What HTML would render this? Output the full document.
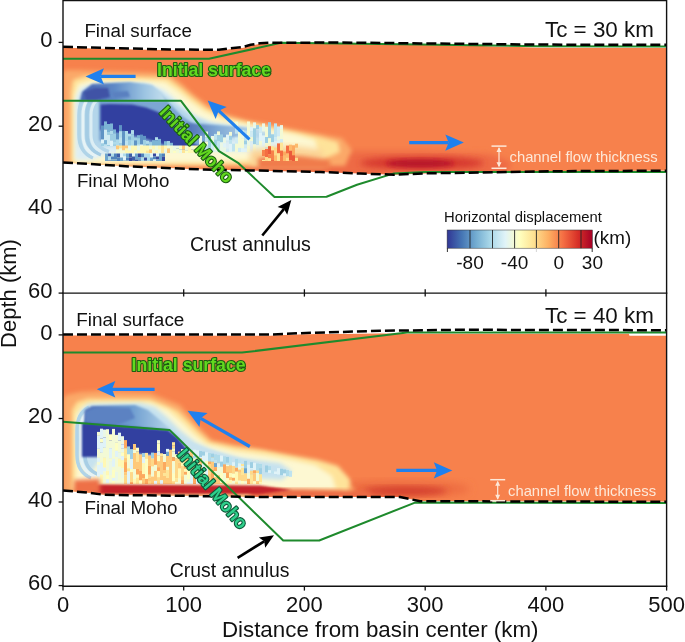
<!DOCTYPE html>
<html><head><meta charset="utf-8"><title>Horizontal displacement</title>
<style>html,body{margin:0;padding:0;background:#fff;}svg{display:block;}</style>
</head><body><svg width="685" height="642" viewBox="0 0 685 642"><defs>
<filter id="b03" x="-20%" y="-20%" width="140%" height="140%"><feGaussianBlur stdDeviation="0.35"/></filter>
<filter id="b05" x="-20%" y="-20%" width="140%" height="140%"><feGaussianBlur stdDeviation="0.6"/></filter>
<filter id="b1" x="-20%" y="-20%" width="140%" height="140%"><feGaussianBlur stdDeviation="1"/></filter>
<filter id="b2" x="-20%" y="-20%" width="140%" height="140%"><feGaussianBlur stdDeviation="2"/></filter>
<filter id="b3" x="-20%" y="-20%" width="140%" height="140%"><feGaussianBlur stdDeviation="3"/></filter>
<filter id="b4" x="-20%" y="-20%" width="140%" height="140%"><feGaussianBlur stdDeviation="4"/></filter>
<filter id="b6" x="-20%" y="-20%" width="140%" height="140%"><feGaussianBlur stdDeviation="6"/></filter>
<filter id="b8" x="-30%" y="-30%" width="160%" height="160%"><feGaussianBlur stdDeviation="8"/></filter>
<linearGradient id="gband" gradientUnits="userSpaceOnUse" x1="85" y1="0" x2="170" y2="0">
<stop offset="0" stop-color="#4A66B2"/><stop offset="0.35" stop-color="#5F8AC6"/><stop offset="0.7" stop-color="#9CC4E2"/><stop offset="1" stop-color="#CFE6F0"/>
</linearGradient>
<linearGradient id="gband2" gradientUnits="userSpaceOnUse" x1="85" y1="0" x2="180" y2="0">
<stop offset="0" stop-color="#5270B8"/><stop offset="0.5" stop-color="#6F9ED0"/><stop offset="0.8" stop-color="#A4C8E4"/><stop offset="1" stop-color="#C8E2EE"/>
</linearGradient>
<linearGradient id="gband3" gradientUnits="userSpaceOnUse" x1="186" y1="0" x2="264" y2="0">
<stop offset="0" stop-color="#4F6FB6"/><stop offset="0.4" stop-color="#7FA9D5"/><stop offset="1" stop-color="#C6E0EE"/>
</linearGradient>
<linearGradient id="cbar" x1="0" x2="1" y1="0" y2="0">
<stop offset="0" stop-color="#313695"/>
<stop offset="0.1" stop-color="#4575b4"/>
<stop offset="0.2" stop-color="#74add1"/>
<stop offset="0.3" stop-color="#abd9e9"/>
<stop offset="0.4" stop-color="#e0f3f8"/>
<stop offset="0.5" stop-color="#ffffbf"/>
<stop offset="0.6" stop-color="#fee090"/>
<stop offset="0.7" stop-color="#fdae61"/>
<stop offset="0.8" stop-color="#f46d43"/>
<stop offset="0.9" stop-color="#d73027"/>
<stop offset="1" stop-color="#a50026"/>
</linearGradient>
</defs><clipPath id="ct"><polygon points="63.0,47.4 120.0,48.9 170.0,50.1 219.0,50.4 228.5,49.2 242.6,47.7 250.7,45.4 260.0,43.8 270.0,43.4 340.0,43.1 420.0,44.2 500.0,46.6 540.0,47.6 666.0,47.8 666.0,170.7 550.0,171.2 425.0,173.4 394.0,174.7 360.0,173.5 320.0,172.0 250.0,170.4 200.0,169.4 130.0,166.5 63.0,162.4"/></clipPath><clipPath id="cb"><polygon points="63.0,335.2 270.0,335.4 300.0,334.2 380.0,333.2 407.0,333.5 629.0,333.5 629.5,335.5 666.0,335.5 666.0,501.8 420.0,501.2 400.0,497.0 260.0,497.0 180.0,495.8 104.0,494.8 89.0,492.8 63.0,490.4"/></clipPath><g clip-path="url(#ct)"><polygon points="63.0,47.4 120.0,48.9 170.0,50.1 219.0,50.4 228.5,49.2 242.6,47.7 250.7,45.4 260.0,43.8 270.0,43.4 340.0,43.1 420.0,44.2 500.0,46.6 540.0,47.6 666.0,47.8 666.0,170.7 550.0,171.2 425.0,173.4 394.0,174.7 360.0,173.5 320.0,172.0 250.0,170.4 200.0,169.4 130.0,166.5 63.0,162.4" fill="#F7814C"/><polygon points="250.0,154.0 330.0,151.0 420.0,151.0 490.0,154.0 512.0,162.0 505.0,176.0 250.0,176.0" fill="#EE6B45" filter="url(#b3)"/><ellipse cx="422" cy="163" rx="62" ry="6.5" fill="#D6392F" filter="url(#b3)"/><ellipse cx="420" cy="163.5" rx="34" ry="4" fill="#B8182A" filter="url(#b2)"/><polygon points="63.0,166.0 63.0,72.0 66.0,70.0 80.0,70.0 100.0,71.0 140.0,72.0 168.0,73.0 180.0,82.0 192.0,93.0 206.0,104.0 222.0,113.0 245.0,119.5 270.0,124.5 296.0,129.5 320.0,134.0 342.0,138.0 352.0,150.0 345.0,166.0" fill="#FBA868" filter="url(#b2)"/><polygon points="71.0,164.0 71.0,92.0 73.0,80.0 85.0,76.0 101.0,77.0 142.0,77.0 168.0,78.0 180.0,87.0 193.0,98.0 207.0,108.5 226.0,117.0 250.0,123.0 273.0,128.0 297.0,132.5 320.0,137.0 338.0,142.0 340.0,152.0 322.0,160.0 270.0,164.0 200.0,165.0 100.0,164.0" fill="#FEE39A" filter="url(#b2)"/><polygon points="75.0,162.0 75.0,95.0 78.0,84.0 90.0,80.5 140.0,80.5 165.0,82.0 178.0,91.0 190.0,101.0 204.0,111.0 222.0,119.0 250.0,125.0 275.0,130.0 298.0,135.0 315.0,140.0 318.0,152.0 300.0,158.0 250.0,160.0 200.0,162.0 100.0,163.0" fill="#FDF8D2" filter="url(#b2)"/><polygon points="75.0,160.0 75.0,100.0 80.0,88.0 95.0,84.0 150.0,84.0 165.0,90.0 180.0,103.0 196.0,116.0 215.0,124.0 250.0,130.0 280.0,137.0 283.0,150.0 250.0,152.0 200.0,150.0 150.0,150.0 105.0,155.0 90.0,160.0" fill="#DDEEF4" filter="url(#b2)"/><polygon points="80.0,146.0 80.0,98.0 86.0,88.0 100.0,85.0 145.0,84.0 160.0,92.0 176.0,104.0 192.0,116.0 210.0,123.0 240.0,127.0 268.0,132.0 270.0,140.0 240.0,138.0 205.0,143.0 160.0,146.0 110.0,146.0 92.0,148.0" fill="#B4D6EA" filter="url(#b2)"/><g filter="url(#b05)"><path d="M93.0,90.0 Q79.0,97.0 79.0,115.0 L79.0,135.0 Q79.0,152.0 93.0,158.0" fill="none" stroke="#B0D4E8" stroke-width="3.5"/><path d="M97.0,91.6 Q83.0,98.2 83.0,115.0 L83.0,135.0 Q83.0,150.8 97.0,156.4" fill="none" stroke="#E6F3F6" stroke-width="3"/><path d="M101.0,93.2 Q87.0,99.4 87.0,115.0 L87.0,135.0 Q87.0,149.6 101.0,154.8" fill="none" stroke="#A4CCE4" stroke-width="3.5"/><path d="M105.0,94.8 Q91.0,100.6 91.0,115.0 L91.0,135.0 Q91.0,148.4 105.0,153.2" fill="none" stroke="#DCEEF4" stroke-width="3"/><path d="M109.0,96.4 Q95.0,101.8 95.0,115.0 L95.0,135.0 Q95.0,147.2 109.0,151.6" fill="none" stroke="#B4D6EA" stroke-width="3.5"/></g><polygon points="99.0,140.0 99.0,100.0 100.0,90.0 120.0,86.0 150.0,88.0 162.0,96.0 172.0,106.0 182.0,116.0 195.0,125.0 210.0,129.0 235.0,128.0 252.0,131.0 235.0,136.0 212.0,141.0 200.0,150.0 180.0,150.0 160.0,146.0 140.0,143.0 120.0,143.0 105.0,144.0" fill="#7BA6D3" filter="url(#b1)"/><polygon points="186.0,123.0 215.0,125.0 250.0,128.0 264.0,131.0 250.0,135.0 215.0,136.0 190.0,135.0" fill="url(#gband3)" filter="url(#b1)"/><polygon points="100.5,130.0 100.5,104.5 110.0,104.0 132.0,104.5 146.0,107.5 158.0,112.0 170.0,119.0 181.0,131.0 190.0,141.0 198.0,146.0 198.0,150.0 190.0,150.0 178.0,149.0 165.0,145.0 150.0,140.0 140.0,137.0 125.0,134.0 110.0,132.0" fill="#3340A0" filter="url(#b1)"/><polygon points="80.0,101.0 82.0,92.0 92.0,84.0 130.0,82.0 152.0,85.0 162.0,93.0 166.0,101.0" fill="url(#gband)" filter="url(#b1)"/><polygon points="84.0,92.0 95.0,88.0 108.0,88.0 110.0,97.0 96.0,100.0 86.0,100.0" fill="#3F52A6" filter="url(#b1)"/><polygon points="112.0,92.0 128.0,91.0 130.0,97.0 114.0,98.0" fill="#5A80C0" filter="url(#b1)"/><g filter="url(#b03)"><rect x="101" y="125.5" width="3" height="14.0" fill="#5E93C4"/><rect x="101" y="139.5" width="3" height="4.0" fill="#E0F3F8"/><rect x="101" y="143.5" width="3" height="2.5" fill="#9ECFE3"/><rect x="104" y="121.4" width="3" height="8.0" fill="#7CB4D5"/><rect x="104" y="129.4" width="3" height="11.0" fill="#D0EBF3"/><rect x="104" y="140.4" width="3" height="4.0" fill="#7CB4D5"/><rect x="104" y="144.4" width="3" height="1.6" fill="#BFE3EF"/><rect x="107" y="124.0" width="3" height="8.0" fill="#7CB4D5"/><rect x="107" y="132.0" width="3" height="3.0" fill="#9ECFE3"/><rect x="107" y="135.0" width="3" height="10.0" fill="#D0EBF3"/><rect x="107" y="145.0" width="3" height="1.0" fill="#9ECFE3"/><rect x="110" y="123.5" width="3" height="7.0" fill="#7CB4D5"/><rect x="110" y="130.5" width="3" height="4.0" fill="#AFDBEA"/><rect x="110" y="134.5" width="3" height="6.0" fill="#9ECFE3"/><rect x="110" y="140.5" width="3" height="5.5" fill="#E0F3F8"/><rect x="113" y="129.4" width="3" height="4.0" fill="#7CB4D5"/><rect x="113" y="133.4" width="3" height="8.0" fill="#9ECFE3"/><rect x="113" y="141.4" width="3" height="3.0" fill="#AFDBEA"/><rect x="113" y="144.4" width="3" height="1.6" fill="#9ECFE3"/><rect x="116" y="133.5" width="3" height="6.0" fill="#5E93C4"/><rect x="116" y="139.5" width="3" height="6.0" fill="#AFDBEA"/><rect x="116" y="145.5" width="3" height="0.5" fill="#D0EBF3"/><rect x="119" y="125.1" width="3" height="6.0" fill="#5E93C4"/><rect x="119" y="131.1" width="3" height="6.0" fill="#AFDBEA"/><rect x="119" y="137.1" width="3" height="6.0" fill="#BFE3EF"/><rect x="119" y="143.1" width="3" height="2.9" fill="#9ECFE3"/><rect x="122" y="130.9" width="3" height="15.1" fill="#5E93C4"/><rect x="125" y="131.0" width="3" height="10.0" fill="#AFDBEA"/><rect x="125" y="141.0" width="3" height="5.0" fill="#BFE3EF"/><rect x="128" y="133.7" width="3" height="3.0" fill="#AFDBEA"/><rect x="128" y="136.7" width="3" height="3.0" fill="#7CB4D5"/><rect x="128" y="139.7" width="3" height="6.3" fill="#9ECFE3"/><rect x="131" y="130.1" width="3" height="4.0" fill="#AFDBEA"/><rect x="131" y="134.1" width="3" height="6.0" fill="#9ECFE3"/><rect x="131" y="140.1" width="3" height="5.9" fill="#AFDBEA"/><rect x="134" y="137.6" width="3" height="3.0" fill="#9ECFE3"/><rect x="134" y="140.6" width="3" height="5.4" fill="#5E93C4"/><rect x="137" y="135.2" width="3" height="3.0" fill="#7CB4D5"/><rect x="137" y="138.2" width="3" height="6.0" fill="#9ECFE3"/><rect x="137" y="144.2" width="3" height="1.8" fill="#AFDBEA"/><rect x="140" y="134.6" width="3" height="10.0" fill="#5E93C4"/><rect x="140" y="144.6" width="3" height="1.4" fill="#E0F3F8"/><rect x="143" y="135.9" width="3" height="4.0" fill="#5E93C4"/><rect x="143" y="139.9" width="3" height="6.1" fill="#9ECFE3"/><rect x="146" y="140.9" width="3" height="3.0" fill="#AFDBEA"/><rect x="146" y="143.9" width="3" height="2.1" fill="#7CB4D5"/><rect x="149" y="142.1" width="3" height="3.9" fill="#9ECFE3"/><rect x="152" y="140.2" width="3" height="5.8" fill="#7CB4D5"/><rect x="155" y="137.2" width="3" height="3.0" fill="#AFDBEA"/><rect x="155" y="140.2" width="3" height="5.8" fill="#7CB4D5"/><rect x="158" y="138.9" width="3" height="7.1" fill="#7CB4D5"/><rect x="161" y="144.8" width="3" height="1.2" fill="#5E93C4"/><rect x="164" y="141.2" width="3" height="4.8" fill="#7CB4D5"/><rect x="167" y="141.0" width="3" height="5.0" fill="#9ECFE3"/><rect x="170" y="142.8" width="3" height="3.2" fill="#7CB4D5"/></g><g filter="url(#b03)"><rect x="116" y="145.5" width="3" height="4.0" fill="#FEC97A"/><rect x="116" y="149.5" width="3" height="3.5" fill="#F3FAD5"/><rect x="119" y="145.5" width="3" height="3.0" fill="#FEE597"/><rect x="119" y="148.5" width="3" height="4.5" fill="#F3FAD5"/><rect x="122" y="145.5" width="3" height="5.0" fill="#FEC97A"/><rect x="122" y="150.5" width="3" height="2.5" fill="#F3FAD5"/><rect x="125" y="145.5" width="3" height="3.0" fill="#FEC97A"/><rect x="125" y="148.5" width="3" height="4.5" fill="#FFF8B4"/><rect x="128" y="145.5" width="3" height="5.0" fill="#EAF7E6"/><rect x="128" y="150.5" width="3" height="2.5" fill="#FFF8B4"/><rect x="131" y="145.5" width="3" height="7.5" fill="#FFF8B4"/><rect x="134" y="145.5" width="3" height="5.0" fill="#FFF8B4"/><rect x="134" y="150.5" width="3" height="2.5" fill="#F3FAD5"/><rect x="137" y="145.5" width="3" height="5.0" fill="#EAF7E6"/><rect x="137" y="150.5" width="3" height="2.5" fill="#FFF8B4"/><rect x="140" y="145.5" width="3" height="7.5" fill="#FFF8B4"/><rect x="143" y="145.5" width="3" height="7.5" fill="#FFF8B4"/><rect x="146" y="145.5" width="3" height="5.0" fill="#FFF8B4"/><rect x="146" y="150.5" width="3" height="2.5" fill="#FEE597"/><rect x="149" y="145.5" width="3" height="4.0" fill="#F3FAD5"/><rect x="149" y="149.5" width="3" height="3.5" fill="#FEC97A"/><rect x="152" y="145.5" width="3" height="4.0" fill="#FFF8B4"/><rect x="152" y="149.5" width="3" height="3.5" fill="#F3FAD5"/><rect x="155" y="145.5" width="3" height="5.0" fill="#F3FAD5"/><rect x="155" y="150.5" width="3" height="2.5" fill="#FFF8B4"/><rect x="158" y="145.5" width="3" height="4.0" fill="#FFF8B4"/><rect x="158" y="149.5" width="3" height="3.5" fill="#F3FAD5"/><rect x="161" y="145.5" width="3" height="7.5" fill="#FEE597"/><rect x="164" y="145.5" width="3" height="4.0" fill="#FFF8B4"/><rect x="164" y="149.5" width="3" height="3.5" fill="#EAF7E6"/><rect x="167" y="145.5" width="3" height="3.0" fill="#F3FAD5"/><rect x="167" y="148.5" width="3" height="4.5" fill="#FEC97A"/><rect x="170" y="145.5" width="3" height="7.5" fill="#F3FAD5"/><rect x="173" y="145.5" width="3" height="5.0" fill="#EAF7E6"/><rect x="173" y="150.5" width="3" height="2.5" fill="#FDFEC3"/><rect x="176" y="145.5" width="3" height="3.0" fill="#EAF7E6"/><rect x="176" y="148.5" width="3" height="4.5" fill="#F3FAD5"/><rect x="179" y="145.5" width="3" height="4.0" fill="#FDFEC3"/><rect x="179" y="149.5" width="3" height="3.5" fill="#EAF7E6"/><rect x="182" y="145.5" width="3" height="4.0" fill="#FEC97A"/><rect x="182" y="149.5" width="3" height="3.5" fill="#FEE597"/><rect x="185" y="145.5" width="3" height="5.0" fill="#F3FAD5"/><rect x="185" y="150.5" width="3" height="2.5" fill="#FDFEC3"/><rect x="188" y="145.5" width="3" height="7.5" fill="#FFF8B4"/><rect x="191" y="145.5" width="3" height="4.0" fill="#F3FAD5"/><rect x="191" y="149.5" width="3" height="3.5" fill="#FFF8B4"/><rect x="194" y="145.5" width="3" height="7.5" fill="#FFF8B4"/><rect x="197" y="145.5" width="3" height="5.0" fill="#FFF8B4"/><rect x="197" y="150.5" width="3" height="2.5" fill="#F3FAD5"/></g><g filter="url(#b03)"><rect x="105" y="153.5" width="3" height="7.5" fill="#6DA4CD"/><rect x="108" y="153.5" width="3" height="3.0" fill="#3D5DA8"/><rect x="108" y="156.5" width="3" height="4.0" fill="#AFDBEA"/><rect x="108" y="160.5" width="3" height="0.5" fill="#3D5DA8"/><rect x="111" y="153.5" width="3" height="3.0" fill="#AFDBEA"/><rect x="111" y="156.5" width="3" height="3.0" fill="#5082BB"/><rect x="111" y="159.5" width="3" height="1.5" fill="#6DA4CD"/><rect x="114" y="153.5" width="3" height="6.0" fill="#5082BB"/><rect x="114" y="159.5" width="3" height="1.5" fill="#6DA4CD"/><rect x="117" y="153.5" width="3" height="4.0" fill="#3D5DA8"/><rect x="117" y="157.5" width="3" height="3.5" fill="#5082BB"/><rect x="120" y="153.5" width="3" height="4.0" fill="#E0F3F8"/><rect x="120" y="157.5" width="3" height="3.5" fill="#6DA4CD"/><rect x="123" y="153.5" width="3" height="3.0" fill="#AFDBEA"/><rect x="123" y="156.5" width="3" height="4.0" fill="#E0F3F8"/><rect x="123" y="160.5" width="3" height="0.5" fill="#6DA4CD"/><rect x="126" y="153.5" width="3" height="4.0" fill="#6DA4CD"/><rect x="126" y="157.5" width="3" height="3.0" fill="#5082BB"/><rect x="126" y="160.5" width="3" height="0.5" fill="#6DA4CD"/><rect x="129" y="153.5" width="3" height="4.0" fill="#3D5DA8"/><rect x="129" y="157.5" width="3" height="3.5" fill="#37499F"/><rect x="132" y="153.5" width="3" height="3.0" fill="#E0F3F8"/><rect x="132" y="156.5" width="3" height="4.0" fill="#3D5DA8"/><rect x="132" y="160.5" width="3" height="0.5" fill="#37499F"/><rect x="135" y="153.5" width="3" height="6.0" fill="#6DA4CD"/><rect x="135" y="159.5" width="3" height="1.5" fill="#3D5DA8"/><rect x="138" y="153.5" width="3" height="4.0" fill="#37499F"/><rect x="138" y="157.5" width="3" height="3.0" fill="#6DA4CD"/><rect x="138" y="160.5" width="3" height="0.5" fill="#3D5DA8"/><rect x="141" y="153.5" width="3" height="4.0" fill="#5082BB"/><rect x="141" y="157.5" width="3" height="3.5" fill="#AFDBEA"/><rect x="144" y="153.5" width="3" height="4.0" fill="#AFDBEA"/><rect x="144" y="157.5" width="3" height="3.0" fill="#37499F"/><rect x="144" y="160.5" width="3" height="0.5" fill="#5082BB"/><rect x="147" y="153.5" width="3" height="7.5" fill="#AFDBEA"/><rect x="150" y="153.5" width="3" height="4.0" fill="#E0F3F8"/><rect x="150" y="157.5" width="3" height="3.0" fill="#6DA4CD"/><rect x="150" y="160.5" width="3" height="0.5" fill="#5082BB"/><rect x="153" y="153.5" width="3" height="3.0" fill="#37499F"/><rect x="153" y="156.5" width="3" height="3.0" fill="#5082BB"/><rect x="153" y="159.5" width="3" height="1.5" fill="#E0F3F8"/><rect x="156" y="153.5" width="3" height="3.0" fill="#E0F3F8"/><rect x="156" y="156.5" width="3" height="3.0" fill="#37499F"/><rect x="156" y="159.5" width="3" height="1.5" fill="#6DA4CD"/><rect x="159" y="153.5" width="3" height="7.5" fill="#6DA4CD"/><rect x="162" y="153.5" width="3" height="3.0" fill="#5082BB"/><rect x="162" y="156.5" width="3" height="4.5" fill="#37499F"/></g><g filter="url(#b03)"><rect x="199" y="135.9" width="3" height="16.1" fill="#EAF7E6"/><rect x="202" y="142.0" width="3" height="8.0" fill="#D0EBF3"/><rect x="202" y="150.0" width="3" height="2.0" fill="#9ECFE3"/><rect x="205" y="131.5" width="3" height="6.0" fill="#EAF7E6"/><rect x="205" y="137.5" width="3" height="4.0" fill="#BFE3EF"/><rect x="205" y="141.5" width="3" height="4.0" fill="#F3FAD5"/><rect x="205" y="145.5" width="3" height="6.5" fill="#BFE3EF"/><rect x="208" y="138.0" width="3" height="10.0" fill="#9ECFE3"/><rect x="208" y="148.0" width="3" height="4.0" fill="#BFE3EF"/><rect x="211" y="136.0" width="3" height="6.0" fill="#EAF7E6"/><rect x="211" y="142.0" width="3" height="10.0" fill="#D0EBF3"/><rect x="214" y="133.9" width="3" height="6.0" fill="#BFE3EF"/><rect x="214" y="139.9" width="3" height="6.0" fill="#9ECFE3"/><rect x="214" y="145.9" width="3" height="4.0" fill="#F3FAD5"/><rect x="214" y="149.9" width="3" height="2.1" fill="#EAF7E6"/><rect x="217" y="131.4" width="3" height="4.0" fill="#F3FAD5"/><rect x="217" y="135.4" width="3" height="6.0" fill="#9ECFE3"/><rect x="217" y="141.4" width="3" height="10.0" fill="#BFE3EF"/><rect x="220" y="134.4" width="3" height="8.0" fill="#9ECFE3"/><rect x="220" y="142.4" width="3" height="9.6" fill="#EAF7E6"/><rect x="223" y="137.4" width="3" height="6.0" fill="#EAF7E6"/><rect x="223" y="143.4" width="3" height="4.0" fill="#E0F3F8"/><rect x="223" y="147.4" width="3" height="4.6" fill="#EAF7E6"/><rect x="226" y="134.6" width="3" height="6.0" fill="#E0F3F8"/><rect x="226" y="148.6" width="3" height="3.4" fill="#D0EBF3"/><rect x="229" y="131.9" width="3" height="4.0" fill="#F3FAD5"/><rect x="229" y="135.9" width="3" height="4.0" fill="#9ECFE3"/><rect x="229" y="139.9" width="3" height="4.0" fill="#BFE3EF"/><rect x="229" y="143.9" width="3" height="8.1" fill="#E0F3F8"/><rect x="232" y="143.7" width="3" height="8.0" fill="#BFE3EF"/><rect x="232" y="151.7" width="3" height="0.3" fill="#F3FAD5"/><rect x="235" y="121.7" width="3" height="6.0" fill="#F3FAD5"/><rect x="235" y="127.7" width="3" height="6.0" fill="#BFE3EF"/><rect x="235" y="137.7" width="3" height="6.0" fill="#D0EBF3"/><rect x="235" y="143.7" width="3" height="8.3" fill="#F3FAD5"/><rect x="238" y="131.9" width="3" height="16.0" fill="#F3FAD5"/><rect x="238" y="147.9" width="3" height="4.1" fill="#D0EBF3"/><rect x="241" y="130.4" width="3" height="8.0" fill="#EAF7E6"/><rect x="241" y="138.4" width="3" height="10.0" fill="#F3FAD5"/><rect x="241" y="148.4" width="3" height="3.6" fill="#E0F3F8"/><rect x="244" y="130.6" width="3" height="10.0" fill="#BFE3EF"/><rect x="244" y="140.6" width="3" height="4.0" fill="#9ECFE3"/><rect x="244" y="144.6" width="3" height="4.0" fill="#D0EBF3"/><rect x="244" y="148.6" width="3" height="3.4" fill="#E0F3F8"/><rect x="247" y="121.5" width="3" height="14.0" fill="#F3FAD5"/><rect x="247" y="135.5" width="3" height="10.0" fill="#EAF7E6"/><rect x="247" y="145.5" width="3" height="6.5" fill="#F3FAD5"/><rect x="250" y="127.1" width="3" height="4.0" fill="#E0F3F8"/><rect x="250" y="131.1" width="3" height="6.0" fill="#D0EBF3"/><rect x="250" y="137.1" width="3" height="4.0" fill="#F3FAD5"/><rect x="250" y="151.1" width="3" height="0.9" fill="#EAF7E6"/><rect x="253" y="122.4" width="3" height="6.0" fill="#EAF7E6"/><rect x="253" y="128.4" width="3" height="16.0" fill="#9ECFE3"/><rect x="253" y="144.4" width="3" height="7.6" fill="#F3FAD5"/><rect x="256" y="125.1" width="3" height="4.0" fill="#9ECFE3"/><rect x="256" y="139.1" width="3" height="6.0" fill="#BFE3EF"/><rect x="256" y="145.1" width="3" height="6.9" fill="#EAF7E6"/><rect x="259" y="126.9" width="3" height="6.0" fill="#D0EBF3"/><rect x="259" y="132.9" width="3" height="8.0" fill="#E0F3F8"/><rect x="259" y="140.9" width="3" height="4.0" fill="#F3FAD5"/><rect x="259" y="144.9" width="3" height="7.1" fill="#EAF7E6"/><rect x="262" y="123.4" width="3" height="8.0" fill="#EAF7E6"/><rect x="262" y="135.4" width="3" height="12.0" fill="#E0F3F8"/><rect x="262" y="147.4" width="3" height="4.0" fill="#F3FAD5"/><rect x="262" y="151.4" width="3" height="0.6" fill="#9ECFE3"/><rect x="265" y="127.0" width="3" height="10.0" fill="#F3FAD5"/><rect x="265" y="137.0" width="3" height="6.0" fill="#9ECFE3"/><rect x="265" y="143.0" width="3" height="4.0" fill="#F3FAD5"/><rect x="265" y="147.0" width="3" height="4.0" fill="#BFE3EF"/><rect x="268" y="122.2" width="3" height="16.0" fill="#9ECFE3"/><rect x="268" y="138.2" width="3" height="10.0" fill="#F3FAD5"/><rect x="268" y="148.2" width="3" height="3.8" fill="#9ECFE3"/><rect x="271" y="134.3" width="3" height="8.0" fill="#9ECFE3"/><rect x="271" y="142.3" width="3" height="4.0" fill="#E0F3F8"/><rect x="271" y="146.3" width="3" height="5.7" fill="#F3FAD5"/><rect x="274" y="123.4" width="3" height="14.0" fill="#BFE3EF"/><rect x="274" y="137.4" width="3" height="4.0" fill="#D0EBF3"/><rect x="274" y="141.4" width="3" height="4.0" fill="#E0F3F8"/><rect x="277" y="126.5" width="3" height="10.0" fill="#D0EBF3"/><rect x="277" y="136.5" width="3" height="4.0" fill="#EAF7E6"/><rect x="277" y="140.5" width="3" height="10.0" fill="#E0F3F8"/><rect x="277" y="150.5" width="3" height="1.5" fill="#D0EBF3"/><rect x="280" y="125.1" width="3" height="4.0" fill="#EAF7E6"/><rect x="280" y="129.1" width="3" height="10.0" fill="#F3FAD5"/><rect x="280" y="139.1" width="3" height="6.0" fill="#D0EBF3"/><rect x="280" y="149.1" width="3" height="2.9" fill="#BFE3EF"/></g><polygon points="250.0,150.0 290.0,146.0 322.0,150.0 325.0,166.0 250.0,166.0" fill="#FBD294" filter="url(#b3)"/><polygon points="258.0,158.0 300.0,156.0 330.0,160.0 330.0,169.0 258.0,169.0" fill="#F07C4C" filter="url(#b2)"/><g filter="url(#b03)"><rect x="262" y="150.0" width="3" height="6.0" fill="#F7814C"/><rect x="262" y="160.0" width="3" height="1.0" fill="#FEE597"/><rect x="265" y="149.0" width="3" height="8.0" fill="#F46D43"/><rect x="265" y="157.0" width="3" height="4.0" fill="#FED889"/><rect x="268" y="146.2" width="3" height="8.0" fill="#EB5A3A"/><rect x="268" y="154.2" width="3" height="4.0" fill="#F7814C"/><rect x="268" y="158.2" width="3" height="2.8" fill="#FEE597"/><rect x="271" y="146.4" width="3" height="4.0" fill="#FEE597"/><rect x="271" y="150.4" width="3" height="10.0" fill="#F7814C"/><rect x="271" y="160.4" width="3" height="0.6" fill="#EB5A3A"/><rect x="274" y="147.6" width="3" height="8.0" fill="#FED889"/><rect x="274" y="155.6" width="3" height="5.4" fill="#FDBA6C"/><rect x="277" y="143.4" width="3" height="10.0" fill="#F46D43"/><rect x="277" y="153.4" width="3" height="7.6" fill="#FEE597"/><rect x="280" y="142.6" width="3" height="8.0" fill="#FEE597"/><rect x="280" y="150.6" width="3" height="6.0" fill="#F46D43"/><rect x="280" y="156.6" width="3" height="4.4" fill="#F7814C"/><rect x="283" y="151.5" width="3" height="4.0" fill="#FCA95F"/><rect x="283" y="155.5" width="3" height="5.5" fill="#FDBA6C"/><rect x="286" y="145.6" width="3" height="8.0" fill="#F46D43"/><rect x="286" y="153.6" width="3" height="4.0" fill="#FDBA6C"/><rect x="286" y="157.6" width="3" height="3.4" fill="#FED889"/><rect x="289" y="144.7" width="3" height="6.0" fill="#FDBA6C"/><rect x="289" y="150.7" width="3" height="10.0" fill="#EB5A3A"/><rect x="289" y="160.7" width="3" height="0.3" fill="#FED889"/><rect x="292" y="145.3" width="3" height="10.0" fill="#FCA95F"/><rect x="292" y="155.3" width="3" height="5.7" fill="#EB5A3A"/><rect x="295" y="143.7" width="3" height="4.0" fill="#FDBA6C"/><rect x="295" y="157.7" width="3" height="3.3" fill="#FED889"/></g></g><g clip-path="url(#cb)"><polygon points="63.0,335.2 270.0,335.4 300.0,334.2 380.0,333.2 407.0,333.5 629.0,333.5 629.5,335.5 666.0,335.5 666.0,501.8 420.0,501.2 400.0,497.0 260.0,497.0 180.0,495.8 104.0,494.8 89.0,492.8 63.0,490.4" fill="#F7814C"/><ellipse cx="400" cy="489" rx="70" ry="8" fill="#EC6A40" filter="url(#b4)"/><ellipse cx="405" cy="491" rx="42" ry="4.5" fill="#D4402E" filter="url(#b3)"/><polygon points="63.0,495.0 63.0,400.0 66.0,395.0 80.0,392.0 100.0,391.0 150.0,393.0 165.0,399.0 180.0,405.0 192.0,419.0 202.0,430.0 212.0,440.0 235.0,445.0 260.0,450.0 290.0,458.0 320.0,466.0 345.0,476.0 355.0,490.0 350.0,497.0" fill="#FBA868" filter="url(#b2)"/><polygon points="72.0,490.0 72.0,410.0 77.0,402.0 88.0,398.5 150.0,399.0 164.0,404.5 178.0,411.0 190.0,423.0 200.0,433.0 210.0,442.0 235.0,447.0 262.0,450.0 290.0,455.0 318.0,460.0 338.0,466.0 350.0,480.0 348.0,494.0 300.0,495.0 200.0,495.0 100.0,495.0" fill="#FEE39A" filter="url(#b2)"/><polygon points="76.0,485.0 76.0,415.0 83.0,406.0 95.0,403.0 150.0,403.0 168.0,410.0 183.0,423.0 194.0,434.0 206.0,444.0 235.0,451.0 265.0,455.0 292.0,460.0 315.0,465.0 332.0,476.0 336.0,489.0 300.0,490.0 200.0,490.0" fill="#FDF8D2" filter="url(#b2)"/><polygon points="76.0,440.0 80.0,412.0 88.0,404.0 140.0,403.0 155.0,407.0 168.0,418.0 180.0,430.0 195.0,442.0 212.0,450.0 240.0,458.0 280.0,463.0 292.0,471.0 282.0,480.0 250.0,478.0 215.0,468.0 190.0,460.0 150.0,456.0 100.0,460.0 90.0,474.0 80.0,462.0" fill="#C6E2EF" filter="url(#b2)"/><g filter="url(#b05)"><path d="M89.0,407.0 Q77.0,413.0 77.0,430.0 L77.0,455.0 Q77.0,472.0 91.0,478.0" fill="none" stroke="#B0D4E8" stroke-width="3.5"/><path d="M93.0,408.6 Q81.0,414.2 81.0,430.0 L81.0,455.0 Q81.0,470.8 95.0,476.4" fill="none" stroke="#E6F3F6" stroke-width="3"/><path d="M97.0,410.2 Q85.0,415.4 85.0,430.0 L85.0,455.0 Q85.0,469.6 99.0,474.8" fill="none" stroke="#A8CEE5" stroke-width="3.5"/></g><polygon points="84.0,430.0 85.0,410.0 92.0,406.0 135.0,405.0 148.0,410.0 160.0,420.0 172.0,430.0 185.0,440.0 205.0,448.0 230.0,456.0 270.0,465.0 250.0,470.0 215.0,463.0 195.0,457.0 180.0,450.0 165.0,440.0 150.0,432.0 120.0,428.0 100.0,428.0" fill="url(#gband2)" filter="url(#b1)"/><polygon points="85.0,412.0 95.0,408.0 130.0,408.0 135.0,418.0 120.0,424.0 86.0,424.0" fill="#5C82C2" filter="url(#b1)"/><polygon points="82.0,457.0 82.0,423.0 120.0,426.0 168.0,430.0 178.0,438.0 186.0,448.0 190.0,457.0 176.0,458.0 160.0,456.0 140.0,454.0 122.0,450.0 104.0,446.0 98.0,457.0" fill="#3340A0" filter="url(#b1)"/><g filter="url(#b03)"><rect x="97" y="431.9" width="3" height="4.0" fill="#F3FAD5"/><rect x="97" y="435.9" width="3" height="13.0" fill="#E0F3F8"/><rect x="97" y="448.9" width="3" height="9.0" fill="#F3FAD5"/><rect x="97" y="457.9" width="3" height="4.0" fill="#E0F3F8"/><rect x="97" y="461.9" width="3" height="3.0" fill="#F3FAD5"/><rect x="97" y="464.9" width="3" height="12.0" fill="#E0F3F8"/><rect x="97" y="476.9" width="3" height="7.1" fill="#F3FAD5"/><rect x="100" y="428.7" width="3" height="10.0" fill="#E0F3F8"/><rect x="100" y="438.7" width="3" height="4.0" fill="#FDFEC3"/><rect x="100" y="442.7" width="3" height="10.0" fill="#E0F3F8"/><rect x="100" y="452.7" width="3" height="10.0" fill="#F3FAD5"/><rect x="100" y="462.7" width="3" height="12.0" fill="#E0F3F8"/><rect x="100" y="474.7" width="3" height="9.3" fill="#FFF8B4"/><rect x="103" y="429.6" width="3" height="8.0" fill="#EAF7E6"/><rect x="103" y="437.6" width="3" height="10.0" fill="#E0F3F8"/><rect x="103" y="447.6" width="3" height="10.0" fill="#F3FAD5"/><rect x="103" y="457.6" width="3" height="10.0" fill="#FFF8B4"/><rect x="103" y="467.6" width="3" height="4.0" fill="#E0F3F8"/><rect x="103" y="471.6" width="3" height="12.4" fill="#F3FAD5"/><rect x="106" y="429.2" width="3" height="42.0" fill="#F3FAD5"/><rect x="106" y="471.2" width="3" height="4.0" fill="#FFF8B4"/><rect x="106" y="475.2" width="3" height="4.0" fill="#FDFEC3"/><rect x="106" y="479.2" width="3" height="4.0" fill="#E0F3F8"/><rect x="106" y="483.2" width="3" height="0.8" fill="#F3FAD5"/><rect x="109" y="434.3" width="3" height="6.0" fill="#FDFEC3"/><rect x="109" y="440.3" width="3" height="8.0" fill="#F3FAD5"/><rect x="109" y="448.3" width="3" height="10.0" fill="#E0F3F8"/><rect x="109" y="458.3" width="3" height="3.0" fill="#F3FAD5"/><rect x="109" y="461.3" width="3" height="14.0" fill="#EAF7E6"/><rect x="109" y="475.3" width="3" height="8.0" fill="#F3FAD5"/><rect x="109" y="483.3" width="3" height="0.7" fill="#FDFEC3"/><rect x="112" y="428.9" width="3" height="30.0" fill="#F3FAD5"/><rect x="112" y="458.9" width="3" height="8.0" fill="#E0F3F8"/><rect x="112" y="466.9" width="3" height="3.0" fill="#F3FAD5"/><rect x="112" y="469.9" width="3" height="8.0" fill="#FDFEC3"/><rect x="112" y="477.9" width="3" height="3.0" fill="#E0F3F8"/><rect x="112" y="480.9" width="3" height="3.1" fill="#FDFEC3"/><rect x="115" y="434.9" width="3" height="8.0" fill="#F3FAD5"/><rect x="115" y="442.9" width="3" height="8.0" fill="#FDFEC3"/><rect x="115" y="450.9" width="3" height="6.0" fill="#E0F3F8"/><rect x="115" y="456.9" width="3" height="15.0" fill="#F3FAD5"/><rect x="115" y="471.9" width="3" height="9.0" fill="#EAF7E6"/><rect x="115" y="480.9" width="3" height="3.1" fill="#F3FAD5"/><rect x="118" y="432.7" width="3" height="8.0" fill="#E0F3F8"/><rect x="118" y="440.7" width="3" height="12.0" fill="#F3FAD5"/><rect x="118" y="452.7" width="3" height="6.0" fill="#EAF7E6"/><rect x="118" y="458.7" width="3" height="8.0" fill="#FFF8B4"/><rect x="118" y="466.7" width="3" height="17.3" fill="#F3FAD5"/><rect x="121" y="436.2" width="3" height="8.0" fill="#EAF7E6"/><rect x="121" y="444.2" width="3" height="4.0" fill="#E0F3F8"/><rect x="121" y="448.2" width="3" height="4.0" fill="#EAF7E6"/><rect x="121" y="452.2" width="3" height="4.0" fill="#FDFEC3"/><rect x="121" y="456.2" width="3" height="4.0" fill="#E0F3F8"/><rect x="121" y="460.2" width="3" height="8.0" fill="#FFF8B4"/><rect x="121" y="468.2" width="3" height="10.0" fill="#EAF7E6"/><rect x="121" y="478.2" width="3" height="5.8" fill="#F3FAD5"/><rect x="124" y="440.1" width="3" height="8.0" fill="#FCA95F"/><rect x="124" y="448.1" width="3" height="10.0" fill="#FEE597"/><rect x="124" y="458.1" width="3" height="4.0" fill="#FEC97A"/><rect x="124" y="462.1" width="3" height="10.0" fill="#FCA95F"/><rect x="124" y="472.1" width="3" height="3.0" fill="#FEC97A"/><rect x="124" y="475.1" width="3" height="8.9" fill="#FED889"/><rect x="127" y="446.4" width="3" height="8.0" fill="#9ECFE3"/><rect x="127" y="454.4" width="3" height="6.0" fill="#FDFEC3"/><rect x="127" y="460.4" width="3" height="8.0" fill="#F3FAD5"/><rect x="127" y="468.4" width="3" height="3.0" fill="#FEE597"/><rect x="127" y="471.4" width="3" height="12.6" fill="#E0F3F8"/><rect x="130" y="449.1" width="3" height="10.0" fill="#9ECFE3"/><rect x="130" y="459.1" width="3" height="10.0" fill="#E0F3F8"/><rect x="130" y="469.1" width="3" height="3.0" fill="#FDFEC3"/><rect x="130" y="472.1" width="3" height="10.0" fill="#FED889"/><rect x="130" y="482.1" width="3" height="1.9" fill="#FCA95F"/><rect x="133" y="444.0" width="3" height="6.0" fill="#FEC97A"/><rect x="133" y="450.0" width="3" height="3.0" fill="#F3FAD5"/><rect x="133" y="453.0" width="3" height="16.0" fill="#FEC97A"/><rect x="133" y="469.0" width="3" height="10.0" fill="#F3FAD5"/><rect x="133" y="479.0" width="3" height="5.0" fill="#FFF8B4"/><rect x="136" y="447.7" width="3" height="4.0" fill="#FDFEC3"/><rect x="136" y="451.7" width="3" height="10.0" fill="#FEE597"/><rect x="136" y="461.7" width="3" height="7.0" fill="#FEC97A"/><rect x="136" y="468.7" width="3" height="6.0" fill="#FCA95F"/><rect x="136" y="474.7" width="3" height="3.0" fill="#FFF8B4"/><rect x="136" y="477.7" width="3" height="6.3" fill="#FEE597"/><rect x="139" y="454.5" width="3" height="16.0" fill="#FEC97A"/><rect x="139" y="470.5" width="3" height="10.0" fill="#FCA95F"/><rect x="139" y="480.5" width="3" height="3.5" fill="#FDFEC3"/><rect x="142" y="453.1" width="3" height="4.0" fill="#9ECFE3"/><rect x="142" y="457.1" width="3" height="6.0" fill="#E0F3F8"/><rect x="142" y="463.1" width="3" height="11.0" fill="#FFF8B4"/><rect x="142" y="474.1" width="3" height="4.0" fill="#FCA95F"/><rect x="142" y="478.1" width="3" height="5.9" fill="#FEC97A"/><rect x="145" y="452.9" width="3" height="6.0" fill="#FEE597"/><rect x="145" y="458.9" width="3" height="20.0" fill="#FDFEC3"/><rect x="145" y="478.9" width="3" height="5.1" fill="#FCA95F"/><rect x="148" y="455.8" width="3" height="10.0" fill="#FEC97A"/><rect x="148" y="465.8" width="3" height="9.0" fill="#FCA95F"/><rect x="148" y="474.8" width="3" height="3.0" fill="#FED889"/><rect x="148" y="477.8" width="3" height="4.0" fill="#FEC97A"/><rect x="148" y="481.8" width="3" height="2.2" fill="#FED889"/><rect x="151" y="452.6" width="3" height="6.0" fill="#9ECFE3"/><rect x="151" y="458.6" width="3" height="8.0" fill="#FED889"/><rect x="151" y="466.6" width="3" height="10.0" fill="#F3FAD5"/><rect x="151" y="476.6" width="3" height="7.4" fill="#FEC97A"/><rect x="154" y="452.9" width="3" height="12.0" fill="#FCA95F"/><rect x="154" y="464.9" width="3" height="6.0" fill="#F3FAD5"/><rect x="154" y="470.9" width="3" height="10.0" fill="#FEC97A"/><rect x="154" y="480.9" width="3" height="3.1" fill="#E0F3F8"/><rect x="157" y="440.2" width="3" height="3.0" fill="#F3FAD5"/><rect x="157" y="443.2" width="3" height="8.0" fill="#FDFEC3"/><rect x="157" y="451.2" width="3" height="4.0" fill="#E0F3F8"/><rect x="157" y="455.2" width="3" height="6.0" fill="#FDFEC3"/><rect x="157" y="461.2" width="3" height="6.0" fill="#FEC97A"/><rect x="157" y="467.2" width="3" height="4.0" fill="#FCA95F"/><rect x="157" y="471.2" width="3" height="6.0" fill="#FFF8B4"/><rect x="157" y="477.2" width="3" height="6.8" fill="#FED889"/><rect x="160" y="453.3" width="3" height="3.0" fill="#FEE597"/><rect x="160" y="456.3" width="3" height="24.0" fill="#FEC97A"/><rect x="160" y="480.3" width="3" height="3.7" fill="#E0F3F8"/><rect x="163" y="454.0" width="3" height="8.0" fill="#F3FAD5"/><rect x="163" y="462.0" width="3" height="8.0" fill="#FCA95F"/><rect x="163" y="470.0" width="3" height="3.0" fill="#FEC97A"/><rect x="163" y="473.0" width="3" height="3.0" fill="#FEE597"/><rect x="163" y="476.0" width="3" height="8.0" fill="#FEC97A"/><rect x="166" y="448.9" width="3" height="3.0" fill="#E0F3F8"/><rect x="166" y="451.9" width="3" height="4.0" fill="#6DA4CD"/><rect x="166" y="455.9" width="3" height="11.0" fill="#FEC97A"/><rect x="166" y="466.9" width="3" height="3.0" fill="#F3FAD5"/><rect x="166" y="469.9" width="3" height="8.0" fill="#FEE597"/><rect x="166" y="477.9" width="3" height="6.1" fill="#FEC97A"/><rect x="169" y="449.7" width="3" height="34.3" fill="#FEC97A"/><rect x="172" y="442.2" width="3" height="3.0" fill="#FEE597"/><rect x="172" y="445.2" width="3" height="3.0" fill="#FED889"/><rect x="172" y="448.2" width="3" height="3.0" fill="#FDFEC3"/><rect x="172" y="451.2" width="3" height="6.0" fill="#F3FAD5"/><rect x="172" y="457.2" width="3" height="4.0" fill="#FCA95F"/><rect x="172" y="461.2" width="3" height="12.0" fill="#F3FAD5"/><rect x="172" y="473.2" width="3" height="8.0" fill="#FDFEC3"/><rect x="172" y="481.2" width="3" height="2.8" fill="#FED889"/><rect x="175" y="454.2" width="3" height="4.0" fill="#FDFEC3"/><rect x="175" y="458.2" width="3" height="20.0" fill="#FED889"/><rect x="175" y="478.2" width="3" height="4.0" fill="#FEE597"/><rect x="175" y="482.2" width="3" height="1.8" fill="#F3FAD5"/><rect x="178" y="451.6" width="3" height="3.0" fill="#FEC97A"/><rect x="178" y="454.6" width="3" height="8.0" fill="#FED889"/><rect x="178" y="462.6" width="3" height="6.0" fill="#FEC97A"/><rect x="178" y="468.6" width="3" height="10.0" fill="#FFF8B4"/><rect x="178" y="478.6" width="3" height="5.4" fill="#F3FAD5"/><rect x="181" y="449.1" width="3" height="4.0" fill="#F3FAD5"/><rect x="181" y="453.1" width="3" height="3.0" fill="#FFF8B4"/><rect x="181" y="456.1" width="3" height="6.0" fill="#E0F3F8"/><rect x="181" y="462.1" width="3" height="4.0" fill="#FFF8B4"/><rect x="181" y="466.1" width="3" height="10.0" fill="#FED889"/><rect x="181" y="476.1" width="3" height="4.0" fill="#FEC97A"/><rect x="181" y="480.1" width="3" height="3.9" fill="#FCA95F"/><rect x="184" y="452.8" width="3" height="6.0" fill="#6DA4CD"/><rect x="184" y="458.8" width="3" height="4.0" fill="#FED889"/><rect x="184" y="462.8" width="3" height="3.0" fill="#FFF8B4"/><rect x="184" y="465.8" width="3" height="3.0" fill="#FCA95F"/><rect x="184" y="468.8" width="3" height="3.0" fill="#FFF8B4"/><rect x="184" y="471.8" width="3" height="3.0" fill="#FCA95F"/><rect x="184" y="474.8" width="3" height="9.2" fill="#F3FAD5"/><rect x="187" y="453.1" width="3" height="6.0" fill="#FED889"/><rect x="187" y="459.1" width="3" height="6.0" fill="#FCA95F"/><rect x="187" y="465.1" width="3" height="4.0" fill="#E0F3F8"/><rect x="187" y="469.1" width="3" height="10.0" fill="#FDFEC3"/><rect x="187" y="479.1" width="3" height="3.0" fill="#F3FAD5"/><rect x="187" y="482.1" width="3" height="1.9" fill="#E0F3F8"/><rect x="190" y="451.5" width="3" height="6.0" fill="#FEC97A"/><rect x="190" y="457.5" width="3" height="4.0" fill="#FFF8B4"/><rect x="190" y="461.5" width="3" height="8.0" fill="#FEC97A"/><rect x="190" y="469.5" width="3" height="4.0" fill="#FFF8B4"/><rect x="190" y="473.5" width="3" height="10.5" fill="#E0F3F8"/><rect x="193" y="450.7" width="3" height="10.0" fill="#FDFEC3"/><rect x="193" y="460.7" width="3" height="14.0" fill="#FEC97A"/><rect x="193" y="474.7" width="3" height="9.3" fill="#FCA95F"/><rect x="196" y="455.3" width="3" height="8.0" fill="#FFF8B4"/><rect x="196" y="463.3" width="3" height="10.0" fill="#FDFEC3"/><rect x="196" y="473.3" width="3" height="4.0" fill="#FED889"/><rect x="196" y="477.3" width="3" height="6.7" fill="#E0F3F8"/><rect x="199" y="452.4" width="3" height="6.0" fill="#E0F3F8"/><rect x="199" y="458.4" width="3" height="3.0" fill="#FCA95F"/><rect x="199" y="461.4" width="3" height="8.0" fill="#FEC97A"/><rect x="199" y="469.4" width="3" height="6.0" fill="#FCA95F"/><rect x="199" y="475.4" width="3" height="4.0" fill="#FFF8B4"/><rect x="199" y="479.4" width="3" height="3.0" fill="#FEC97A"/><rect x="199" y="482.4" width="3" height="1.6" fill="#F3FAD5"/><rect x="202" y="454.7" width="3" height="3.0" fill="#9ECFE3"/><rect x="202" y="457.7" width="3" height="10.0" fill="#E0F3F8"/><rect x="202" y="467.7" width="3" height="6.0" fill="#FDFEC3"/><rect x="202" y="473.7" width="3" height="6.0" fill="#F3FAD5"/><rect x="202" y="479.7" width="3" height="3.0" fill="#FEE597"/><rect x="202" y="482.7" width="3" height="1.3" fill="#F3FAD5"/><rect x="205" y="457.0" width="3" height="10.0" fill="#FDFEC3"/><rect x="205" y="467.0" width="3" height="10.0" fill="#E0F3F8"/><rect x="205" y="477.0" width="3" height="3.0" fill="#FFF8B4"/><rect x="205" y="480.0" width="3" height="3.0" fill="#F3FAD5"/><rect x="205" y="483.0" width="3" height="1.0" fill="#FCA95F"/><rect x="208" y="454.0" width="3" height="3.0" fill="#6DA4CD"/><rect x="208" y="457.0" width="3" height="3.0" fill="#FEC97A"/><rect x="208" y="460.0" width="3" height="4.0" fill="#FCA95F"/><rect x="208" y="464.0" width="3" height="10.0" fill="#FED889"/><rect x="208" y="474.0" width="3" height="6.0" fill="#FEC97A"/><rect x="208" y="480.0" width="3" height="4.0" fill="#FFF8B4"/><rect x="208" y="484.0" width="3" height="0.0" fill="#FCA95F"/><rect x="211" y="455.4" width="3" height="14.0" fill="#FEC97A"/><rect x="211" y="469.4" width="3" height="14.6" fill="#FCA95F"/><rect x="214" y="463.1" width="3" height="4.0" fill="#6DA4CD"/><rect x="214" y="467.1" width="3" height="4.0" fill="#FCA95F"/><rect x="214" y="471.1" width="3" height="6.0" fill="#F3FAD5"/><rect x="214" y="477.1" width="3" height="6.9" fill="#FEC97A"/><rect x="217" y="460.3" width="3" height="3.0" fill="#FCA95F"/><rect x="217" y="463.3" width="3" height="4.0" fill="#E0F3F8"/><rect x="217" y="467.3" width="3" height="8.0" fill="#F3FAD5"/><rect x="217" y="475.3" width="3" height="8.7" fill="#FEC97A"/><rect x="220" y="456.8" width="3" height="10.0" fill="#9ECFE3"/><rect x="220" y="466.8" width="3" height="6.0" fill="#F3FAD5"/><rect x="220" y="472.8" width="3" height="10.0" fill="#FDFEC3"/><rect x="220" y="482.8" width="3" height="1.2" fill="#FEC97A"/><rect x="223" y="464.1" width="3" height="9.0" fill="#FCA95F"/><rect x="223" y="473.1" width="3" height="10.9" fill="#F3FAD5"/><rect x="226" y="460.2" width="3" height="6.0" fill="#F3FAD5"/><rect x="226" y="466.2" width="3" height="6.0" fill="#FEC97A"/><rect x="226" y="472.2" width="3" height="6.0" fill="#FCA95F"/><rect x="226" y="478.2" width="3" height="3.0" fill="#FDFEC3"/><rect x="226" y="481.2" width="3" height="2.8" fill="#FFF8B4"/><rect x="229" y="464.2" width="3" height="9.0" fill="#FEC97A"/><rect x="229" y="473.2" width="3" height="4.0" fill="#FFF8B4"/><rect x="229" y="477.2" width="3" height="3.0" fill="#FEC97A"/><rect x="229" y="480.2" width="3" height="3.0" fill="#FFF8B4"/><rect x="229" y="483.2" width="3" height="0.8" fill="#F3FAD5"/><rect x="232" y="465.8" width="3" height="8.0" fill="#FED889"/><rect x="232" y="473.8" width="3" height="4.0" fill="#FDFEC3"/><rect x="232" y="477.8" width="3" height="3.0" fill="#FCA95F"/><rect x="232" y="480.8" width="3" height="3.0" fill="#F3FAD5"/><rect x="232" y="483.8" width="3" height="0.2" fill="#FFF8B4"/><rect x="235" y="467.7" width="3" height="4.0" fill="#FCA95F"/><rect x="235" y="471.7" width="3" height="10.0" fill="#FFF8B4"/><rect x="235" y="481.7" width="3" height="2.3" fill="#FEE597"/><rect x="238" y="461.7" width="3" height="8.0" fill="#F3FAD5"/><rect x="238" y="469.7" width="3" height="3.0" fill="#FEC97A"/><rect x="238" y="472.7" width="3" height="8.0" fill="#FED889"/><rect x="238" y="480.7" width="3" height="3.3" fill="#F3FAD5"/><rect x="241" y="464.0" width="3" height="11.0" fill="#FEE597"/><rect x="241" y="475.0" width="3" height="6.0" fill="#FED889"/><rect x="241" y="481.0" width="3" height="3.0" fill="#FDFEC3"/><rect x="244" y="467.4" width="3" height="6.0" fill="#6DA4CD"/><rect x="244" y="473.4" width="3" height="8.0" fill="#FED889"/><rect x="244" y="481.4" width="3" height="2.6" fill="#F3FAD5"/><rect x="247" y="464.8" width="3" height="8.0" fill="#E0F3F8"/><rect x="247" y="472.8" width="3" height="6.0" fill="#F3FAD5"/><rect x="247" y="478.8" width="3" height="5.2" fill="#FCA95F"/><rect x="250" y="470.8" width="3" height="4.0" fill="#FED889"/><rect x="250" y="474.8" width="3" height="9.2" fill="#FEE597"/><rect x="253" y="464.4" width="3" height="6.0" fill="#FED889"/><rect x="253" y="470.4" width="3" height="3.0" fill="#FCA95F"/><rect x="253" y="473.4" width="3" height="8.0" fill="#FEC97A"/><rect x="253" y="481.4" width="3" height="2.6" fill="#FDFEC3"/><rect x="256" y="470.1" width="3" height="3.0" fill="#FED889"/><rect x="256" y="473.1" width="3" height="8.0" fill="#F3FAD5"/><rect x="256" y="481.1" width="3" height="2.9" fill="#FEC97A"/><rect x="259" y="464.3" width="3" height="10.0" fill="#9ECFE3"/><rect x="259" y="474.3" width="3" height="8.0" fill="#FEE597"/><rect x="259" y="482.3" width="3" height="1.7" fill="#FFF8B4"/></g><g filter="url(#b03)"><rect x="193" y="449.7" width="3" height="6.0" fill="#E0F3F8"/><rect x="193" y="455.7" width="3" height="2.9" fill="#AFDBEA"/><rect x="196" y="450.3" width="3" height="6.0" fill="#E0F3F8"/><rect x="199" y="451.0" width="3" height="6.0" fill="#9ECFE3"/><rect x="202" y="451.6" width="3" height="4.0" fill="#9ECFE3"/><rect x="202" y="455.6" width="3" height="4.6" fill="#E0F3F8"/><rect x="205" y="452.3" width="3" height="8.6" fill="#E0F3F8"/><rect x="208" y="453.0" width="3" height="8.5" fill="#AFDBEA"/><rect x="211" y="453.6" width="3" height="4.0" fill="#9ECFE3"/><rect x="211" y="457.6" width="3" height="4.0" fill="#BFE3EF"/><rect x="211" y="461.6" width="3" height="0.4" fill="#9ECFE3"/><rect x="214" y="454.3" width="3" height="6.0" fill="#AFDBEA"/><rect x="214" y="460.3" width="3" height="2.3" fill="#BFE3EF"/><rect x="217" y="454.9" width="3" height="8.0" fill="#AFDBEA"/><rect x="220" y="455.6" width="3" height="6.0" fill="#E0F3F8"/><rect x="223" y="456.3" width="3" height="8.0" fill="#AFDBEA"/><rect x="223" y="464.3" width="3" height="0.0" fill="#BFE3EF"/><rect x="226" y="456.9" width="3" height="6.0" fill="#9ECFE3"/><rect x="226" y="462.9" width="3" height="1.9" fill="#BFE3EF"/><rect x="229" y="457.6" width="3" height="7.8" fill="#BFE3EF"/><rect x="232" y="462.2" width="3" height="3.7" fill="#E0F3F8"/><rect x="235" y="458.9" width="3" height="7.7" fill="#AFDBEA"/><rect x="238" y="459.6" width="3" height="4.0" fill="#BFE3EF"/><rect x="238" y="463.6" width="3" height="3.6" fill="#E0F3F8"/><rect x="241" y="466.2" width="3" height="1.5" fill="#E0F3F8"/><rect x="244" y="460.9" width="3" height="7.4" fill="#9ECFE3"/><rect x="247" y="467.5" width="3" height="1.3" fill="#E0F3F8"/><rect x="250" y="462.2" width="3" height="6.0" fill="#9ECFE3"/><rect x="250" y="468.2" width="3" height="1.2" fill="#E0F3F8"/><rect x="253" y="462.9" width="3" height="7.1" fill="#E0F3F8"/><rect x="256" y="463.5" width="3" height="7.0" fill="#AFDBEA"/><rect x="259" y="464.2" width="3" height="4.0" fill="#AFDBEA"/><rect x="265" y="465.5" width="3" height="6.8" fill="#9ECFE3"/><rect x="268" y="466.2" width="3" height="4.0" fill="#AFDBEA"/><rect x="268" y="470.2" width="3" height="2.7" fill="#E0F3F8"/><rect x="271" y="470.8" width="3" height="2.6" fill="#BFE3EF"/><rect x="274" y="471.5" width="3" height="2.5" fill="#E0F3F8"/><rect x="277" y="468.1" width="3" height="6.4" fill="#E0F3F8"/><rect x="280" y="468.8" width="3" height="6.3" fill="#9ECFE3"/><rect x="283" y="469.5" width="3" height="4.0" fill="#9ECFE3"/><rect x="283" y="473.5" width="3" height="2.2" fill="#E0F3F8"/><rect x="286" y="470.1" width="3" height="6.1" fill="#AFDBEA"/><rect x="289" y="470.8" width="3" height="6.0" fill="#BFE3EF"/><rect x="289" y="476.8" width="3" height="0.0" fill="#E0F3F8"/></g><polygon points="250.0,489.0 300.0,489.0 340.0,490.0 370.0,492.0 370.0,498.0 250.0,498.0" fill="#EC6A45" filter="url(#b2)"/><polygon points="86.0,487.0 100.0,484.5 260.0,485.5 292.0,490.0 260.0,494.0 100.0,494.0" fill="#C4242B" filter="url(#b1)"/><polygon points="74.0,480.0 100.0,479.0 100.0,494.0 74.0,494.0" fill="#EE7046" filter="url(#b2)"/></g><polyline points="63.0,58.8 209.0,58.8 281.0,42.8 420.0,44.6 540.0,46.2 666.0,46.4" fill="none" stroke="#1E8A2C" stroke-width="2" stroke-linejoin="round" /><polyline points="63.0,100.8 181.0,100.8 219.0,151.2 238.0,162.8 248.2,172.3 274.5,197.0 326.5,196.8 357.0,184.8 394.0,173.4 425.0,172.0 666.0,172.0" fill="none" stroke="#1E8A2C" stroke-width="2" stroke-linejoin="round" /><polyline points="63.0,352.6 242.0,352.6 407.0,332.4 666.0,332.4" fill="none" stroke="#1E8A2C" stroke-width="2" stroke-linejoin="round" /><polyline points="63.0,421.8 169.5,429.9 283.2,540.5 319.2,540.5 415.0,502.6 666.0,503.0" fill="none" stroke="#1E8A2C" stroke-width="2" stroke-linejoin="round" /><polyline points="63.0,46.8 120.0,48.3 170.0,49.5 219.0,49.8 228.5,48.6 242.6,47.1 250.7,44.8 260.0,43.2 270.0,42.8 340.0,42.5 420.0,43.4 540.0,44.6 666.0,44.8" fill="none" stroke="#000" stroke-width="2.5" stroke-dasharray="10,4" stroke-linejoin="round" /><polyline points="63.0,162.4 130.0,166.5 200.0,169.4 250.0,170.4 320.0,172.0 360.0,173.5 394.0,174.7 425.0,173.4 550.0,171.2 666.0,170.7" fill="none" stroke="#000" stroke-width="2.5" stroke-dasharray="10,4" stroke-linejoin="round" /><polyline points="63.0,334.4 270.0,334.6 300.0,333.2 380.0,330.8 460.0,329.8 666.0,330.2" fill="none" stroke="#000" stroke-width="2.5" stroke-dasharray="10,4" stroke-linejoin="round" /><polyline points="63.0,490.4 89.0,492.8 104.0,494.8 180.0,495.8 260.0,497.0 400.0,497.0 420.0,501.2 666.0,501.8" fill="none" stroke="#000" stroke-width="2.5" stroke-dasharray="10,4" stroke-linejoin="round" /><line x1="135.6" y1="76.4" x2="100.7" y2="76.4" stroke="#1F80EE" stroke-width="3.2"/><polygon points="85.5,76.4 104.0,68.2 100.7,76.4 104.0,84.6" fill="#1F80EE"/><line x1="249.5" y1="139.3" x2="218.7" y2="110.7" stroke="#1F80EE" stroke-width="3.2"/><polygon points="207.6,100.4 226.7,107.0 218.7,110.7 215.6,119.0" fill="#1F80EE"/><line x1="409.2" y1="142.6" x2="448.6" y2="142.6" stroke="#1F80EE" stroke-width="3.2"/><polygon points="463.8,142.6 445.3,150.8 448.6,142.6 445.3,134.4" fill="#1F80EE"/><line x1="154.6" y1="389.3" x2="112.0" y2="389.3" stroke="#1F80EE" stroke-width="3.2"/><polygon points="96.8,389.3 115.3,381.1 112.0,389.3 115.3,397.5" fill="#1F80EE"/><line x1="249.8" y1="446.5" x2="200.7" y2="418.3" stroke="#1F80EE" stroke-width="3.2"/><polygon points="187.5,410.8 207.6,412.9 200.7,418.3 199.5,427.1" fill="#1F80EE"/><line x1="396.3" y1="470.4" x2="437.1" y2="470.4" stroke="#1F80EE" stroke-width="3.2"/><polygon points="452.3,470.4 433.8,478.6 437.1,470.4 433.8,462.2" fill="#1F80EE"/><line x1="262.3" y1="235.5" x2="284.0" y2="208.9" stroke="#000" stroke-width="2.6"/><polygon points="291.3,200.0 287.2,214.8 284.0,208.9 277.6,206.9" fill="#000"/><line x1="237.6" y1="557.8" x2="264.2" y2="541.3" stroke="#000" stroke-width="2.6"/><polygon points="274.0,535.3 265.2,547.8 264.2,541.3 258.9,537.6" fill="#000"/><line x1="491.5" y1="146.1" x2="506.5" y2="146.1" stroke="#FDE8D8" stroke-width="1.5"/><line x1="491.5" y1="168.3" x2="506.5" y2="168.3" stroke="#FDE8D8" stroke-width="1.5"/><line x1="499" y1="148.1" x2="499" y2="166.3" stroke="#FDE8D8" stroke-width="1.2"/><polygon points="499,147.1 496.5,152.1 501.5,152.1" fill="#FDE8D8"/><polygon points="499,167.3 496.5,162.3 501.5,162.3" fill="#FDE8D8"/><line x1="490.2" y1="479.7" x2="505.2" y2="479.7" stroke="#FDE8D8" stroke-width="1.5"/><line x1="490.2" y1="500.7" x2="505.2" y2="500.7" stroke="#FDE8D8" stroke-width="1.5"/><line x1="497.7" y1="481.7" x2="497.7" y2="498.7" stroke="#FDE8D8" stroke-width="1.2"/><polygon points="497.7,480.7 495.2,485.7 500.2,485.7" fill="#FDE8D8"/><polygon points="497.7,499.7 495.2,494.7 500.2,494.7" fill="#FDE8D8"/><rect x="0" y="0" width="0" height="0"/><line x1="63" y1="0.6" x2="666.6" y2="0.6" stroke="#111" stroke-width="1.3"/><line x1="63" y1="0" x2="63" y2="586.2" stroke="#111" stroke-width="1.4"/><line x1="666.6" y1="0" x2="666.6" y2="586.2" stroke="#111" stroke-width="1.4"/><line x1="62.3" y1="293.1" x2="667.3" y2="293.1" stroke="#111" stroke-width="1.4"/><line x1="62.3" y1="586.2" x2="667.3" y2="586.2" stroke="#111" stroke-width="1.4"/><line x1="58.6" y1="42.4" x2="63" y2="42.4" stroke="#111" stroke-width="1.3"/><line x1="58.6" y1="126.2" x2="63" y2="126.2" stroke="#111" stroke-width="1.3"/><line x1="58.6" y1="209.8" x2="63" y2="209.8" stroke="#111" stroke-width="1.3"/><line x1="58.6" y1="293.1" x2="63" y2="293.1" stroke="#111" stroke-width="1.3"/><line x1="58.6" y1="334.9" x2="63" y2="334.9" stroke="#111" stroke-width="1.3"/><line x1="58.6" y1="418.5" x2="63" y2="418.5" stroke="#111" stroke-width="1.3"/><line x1="58.6" y1="502.0" x2="63" y2="502.0" stroke="#111" stroke-width="1.3"/><line x1="58.6" y1="585.6" x2="63" y2="585.6" stroke="#111" stroke-width="1.3"/><line x1="183.7" y1="289.3" x2="183.7" y2="296.6" stroke="#111" stroke-width="1.3"/><line x1="304.4" y1="289.3" x2="304.4" y2="296.6" stroke="#111" stroke-width="1.3"/><line x1="425.2" y1="289.3" x2="425.2" y2="296.6" stroke="#111" stroke-width="1.3"/><line x1="545.9" y1="289.3" x2="545.9" y2="296.6" stroke="#111" stroke-width="1.3"/><line x1="63" y1="586" x2="63" y2="590.6" stroke="#111" stroke-width="1.3"/><line x1="183.7" y1="586" x2="183.7" y2="590.6" stroke="#111" stroke-width="1.3"/><line x1="304.4" y1="586" x2="304.4" y2="590.6" stroke="#111" stroke-width="1.3"/><line x1="425.2" y1="586" x2="425.2" y2="590.6" stroke="#111" stroke-width="1.3"/><line x1="545.9" y1="586" x2="545.9" y2="590.6" stroke="#111" stroke-width="1.3"/><line x1="666.6" y1="586" x2="666.6" y2="590.6" stroke="#111" stroke-width="1.3"/><text x="52.6" y="47.0" style="font-family:'Liberation Sans',Arial,sans-serif;font-size:22px;font-weight:normal" text-anchor="end" fill="#111" >0</text><text x="52.6" y="130.8" style="font-family:'Liberation Sans',Arial,sans-serif;font-size:22px;font-weight:normal" text-anchor="end" fill="#111" >20</text><text x="52.6" y="214.4" style="font-family:'Liberation Sans',Arial,sans-serif;font-size:22px;font-weight:normal" text-anchor="end" fill="#111" >40</text><text x="52.6" y="297.70000000000005" style="font-family:'Liberation Sans',Arial,sans-serif;font-size:22px;font-weight:normal" text-anchor="end" fill="#111" >60</text><text x="52.6" y="339.5" style="font-family:'Liberation Sans',Arial,sans-serif;font-size:22px;font-weight:normal" text-anchor="end" fill="#111" >0</text><text x="52.6" y="423.1" style="font-family:'Liberation Sans',Arial,sans-serif;font-size:22px;font-weight:normal" text-anchor="end" fill="#111" >20</text><text x="52.6" y="506.6" style="font-family:'Liberation Sans',Arial,sans-serif;font-size:22px;font-weight:normal" text-anchor="end" fill="#111" >40</text><text x="52.6" y="590.2" style="font-family:'Liberation Sans',Arial,sans-serif;font-size:22px;font-weight:normal" text-anchor="end" fill="#111" >60</text><text x="63" y="611.8" style="font-family:'Liberation Sans',Arial,sans-serif;font-size:22px;font-weight:normal" text-anchor="middle" fill="#111" >0</text><text x="183.7" y="611.8" style="font-family:'Liberation Sans',Arial,sans-serif;font-size:22px;font-weight:normal" text-anchor="middle" fill="#111" >100</text><text x="304.4" y="611.8" style="font-family:'Liberation Sans',Arial,sans-serif;font-size:22px;font-weight:normal" text-anchor="middle" fill="#111" >200</text><text x="425.2" y="611.8" style="font-family:'Liberation Sans',Arial,sans-serif;font-size:22px;font-weight:normal" text-anchor="middle" fill="#111" >300</text><text x="545.9" y="611.8" style="font-family:'Liberation Sans',Arial,sans-serif;font-size:22px;font-weight:normal" text-anchor="middle" fill="#111" >400</text><text x="666.6" y="611.8" style="font-family:'Liberation Sans',Arial,sans-serif;font-size:22px;font-weight:normal" text-anchor="middle" fill="#111" >500</text><text x="380.2" y="637.1" style="font-family:'Liberation Sans',Arial,sans-serif;font-size:22.35px;font-weight:normal" text-anchor="middle" fill="#111" >Distance from basin center (km)</text><text x="0" y="0" transform="translate(16.4,293.5) rotate(-90)" style="font-family:'Liberation Sans',Arial,sans-serif;font-size:22px" text-anchor="middle" fill="#111">Depth (km)</text><text x="653.9" y="37.2" style="font-family:'Liberation Sans',Arial,sans-serif;font-size:22.4px;font-weight:normal" text-anchor="end" fill="#111" >Tc = 30 km</text><text x="653.9" y="322.6" style="font-family:'Liberation Sans',Arial,sans-serif;font-size:22.4px;font-weight:normal" text-anchor="end" fill="#111" >Tc = 40 km</text><text x="84.4" y="37.3" style="font-family:'Liberation Sans',Arial,sans-serif;font-size:18.8px;font-weight:normal" text-anchor="start" fill="#111" >Final surface</text><text x="76.2" y="326.3" style="font-family:'Liberation Sans',Arial,sans-serif;font-size:18.9px;font-weight:normal" text-anchor="start" fill="#111" >Final surface</text><text x="76.9" y="186.6" style="font-family:'Liberation Sans',Arial,sans-serif;font-size:18.7px;font-weight:normal" text-anchor="start" fill="#111" >Final Moho</text><text x="84.5" y="513.9" style="font-family:'Liberation Sans',Arial,sans-serif;font-size:18.8px;font-weight:normal" text-anchor="start" fill="#111" >Final Moho</text><text x="190.0" y="251.0" style="font-family:'Liberation Sans',Arial,sans-serif;font-size:19.6px;font-weight:normal" text-anchor="start" fill="#111" >Crust annulus</text><text x="169.8" y="577.3" style="font-family:'Liberation Sans',Arial,sans-serif;font-size:19.4px;font-weight:normal" text-anchor="start" fill="#111" >Crust annulus</text><text x="157.0" y="75.9" style="font-family:'Liberation Sans',Arial,sans-serif;font-size:17.7px;font-weight:bold" text-anchor="start" fill="#62D81F" stroke="#1B5E12" stroke-width="2.2" paint-order="stroke" stroke-linejoin="round">Initial surface</text><text x="131.6" y="370.9" style="font-family:'Liberation Sans',Arial,sans-serif;font-size:17.7px;font-weight:bold" text-anchor="start" fill="#62D81F" stroke="#1B5E12" stroke-width="2.2" paint-order="stroke" stroke-linejoin="round">Initial surface</text><text x="0" y="0" transform="translate(158.5,113) rotate(46.5)" style="font-family:'Liberation Sans',Arial,sans-serif;font-size:17.7px;font-weight:bold" fill="#62D81F" stroke="#1B5E12" stroke-width="2.2" paint-order="stroke" stroke-linejoin="round">Initial Moho</text><text x="0" y="0" transform="translate(176.5,455) rotate(50)" style="font-family:'Liberation Sans',Arial,sans-serif;font-size:17.7px;font-weight:bold" fill="#2FD08C" stroke="#0E5A3A" stroke-width="2.2" paint-order="stroke" stroke-linejoin="round">Initial Moho</text><text x="509.5" y="161.9" style="font-family:'Liberation Sans',Arial,sans-serif;font-size:14.8px;font-weight:normal" text-anchor="start" fill="#FDE8D8" >channel flow thickness</text><text x="508.0" y="495.5" style="font-family:'Liberation Sans',Arial,sans-serif;font-size:14.8px;font-weight:normal" text-anchor="start" fill="#FDE8D8" >channel flow thickness</text><text x="444.0" y="222.0" style="font-family:'Liberation Sans',Arial,sans-serif;font-size:14.8px;font-weight:normal" text-anchor="start" fill="#111" >Horizontal displacement</text><rect x="447.1" y="230" width="145.3" height="18.2" fill="url(#cbar)"/><line x1="470" y1="230" x2="470" y2="248.2" stroke="#222" stroke-width="0.9"/><line x1="492.5" y1="230" x2="492.5" y2="248.2" stroke="#222" stroke-width="0.9"/><line x1="514.6" y1="230" x2="514.6" y2="248.2" stroke="#222" stroke-width="0.9"/><line x1="536.4" y1="230" x2="536.4" y2="248.2" stroke="#222" stroke-width="0.9"/><line x1="558.7" y1="230" x2="558.7" y2="248.2" stroke="#222" stroke-width="0.9"/><line x1="581" y1="230" x2="581" y2="248.2" stroke="#222" stroke-width="0.9"/><rect x="447.1" y="230" width="145.3" height="18.2" fill="none" stroke="#333" stroke-width="0.5"/><line x1="447.4" y1="248" x2="447.4" y2="252" stroke="#333" stroke-width="1"/><line x1="592.2" y1="248" x2="592.2" y2="252" stroke="#333" stroke-width="1"/><line x1="536.4" y1="248" x2="536.4" y2="252" stroke="#ccc" stroke-width="0.8"/><text x="593.6" y="243.5" style="font-family:'Liberation Sans',Arial,sans-serif;font-size:18.8px;font-weight:normal" text-anchor="start" fill="#111" >(km)</text><text x="470" y="269.0" style="font-family:'Liberation Sans',Arial,sans-serif;font-size:19.0px;font-weight:normal" text-anchor="middle" fill="#111" >-80</text><text x="514.6" y="269.0" style="font-family:'Liberation Sans',Arial,sans-serif;font-size:19.0px;font-weight:normal" text-anchor="middle" fill="#111" >-40</text><text x="558.7" y="269.0" style="font-family:'Liberation Sans',Arial,sans-serif;font-size:19.0px;font-weight:normal" text-anchor="middle" fill="#111" >0</text><text x="592.4" y="269.0" style="font-family:'Liberation Sans',Arial,sans-serif;font-size:19.0px;font-weight:normal" text-anchor="middle" fill="#111" >30</text></svg></body></html>
